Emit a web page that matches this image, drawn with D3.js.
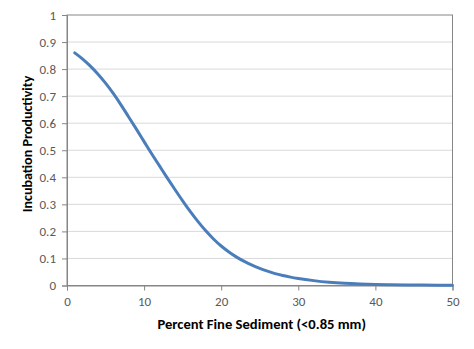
<!DOCTYPE html>
<html>
<head>
<meta charset="utf-8">
<script src="https://cdn.jsdelivr.net/npm/d3@7"></script>
<style>
  html, body { margin: 0; padding: 0; background: #fff; }
  svg { display: block; }
</style>
</head>
<body>
<svg id="chart" width="474" height="349"></svg>
<script>
const sedimentPct = [1,2,3,4,5,6,7,8,9,10,11,12,13,14,15,16,17,18,19,20,21,22,23,24,25,26,27,28,29,30,32,34,36,38,40,42,44,46,48,50];
const productivity = [0.860,0.838,0.812,0.782,0.748,0.710,0.668,0.623,0.578,0.532,0.486,0.442,0.398,0.355,0.313,0.273,0.236,0.202,0.172,0.146,0.124,0.105,0.089,0.075,0.063,0.053,0.044,0.037,0.031,0.026,0.018,0.012,0.008,0.0055,0.004,0.003,0.0022,0.0016,0.0012,0.001];
const xTicks = [0,10,20,30,40,50];
const yTicks = [0,0.1,0.2,0.3,0.4,0.5,0.6,0.7,0.8,0.9,1];
const xTitle = "Percent Fine Sediment (<0.85 mm)";
const yTitle = "Incubation Productivity";

const svg = d3.select("#chart");
const L = 67, R = 452.5, T = 15, B = 285.5;
const x = d3.scaleLinear().domain([0,50]).range([L,R]);
const y = d3.scaleLinear().domain([0,1]).range([B,T]);
const font = "Calibri, Carlito, Lato, 'Open Sans', sans-serif";

// gridlines
svg.append("g").selectAll("line").data(yTicks.filter(d => d > 0 && d < 1)).join("line")
  .attr("x1", L).attr("x2", R).attr("y1", d => y(d)).attr("y2", d => y(d))
  .attr("stroke", "#d9d9d9").attr("stroke-width", 1);

// plot border
svg.append("rect").attr("x", L).attr("y", T).attr("width", R-L).attr("height", B-T)
  .attr("fill", "none").attr("stroke", "#868686").attr("stroke-width", 1);

// axes
const yAxis = svg.append("g").attr("transform", `translate(${L},0)`)
  .call(d3.axisLeft(y).tickValues(yTicks).tickFormat(d3.format("~g")).tickSize(5).tickPadding(6));
const xAxis = svg.append("g").attr("transform", `translate(0,${B})`)
  .call(d3.axisBottom(x).tickValues(xTicks).tickFormat(d3.format("d")).tickSize(5).tickPadding(6));
[xAxis, yAxis].forEach(g => {
  g.select(".domain").attr("stroke", "#868686");
  g.selectAll(".tick line").attr("stroke", "#868686");
  g.selectAll(".tick text").attr("fill", "#595959").attr("font-size", "13px").attr("font-family", font);
});

// curve
const line = d3.line().x((d,i) => x(sedimentPct[i])).y(d => y(d)).curve(d3.curveMonotoneX);
svg.append("path").datum(productivity).attr("d", line)
  .attr("fill", "none").attr("stroke", "#4a7ebb").attr("stroke-width", 3)
  .attr("stroke-linejoin", "round").attr("stroke-linecap", "round");

// titles
svg.append("text").attr("x", (L+R)/2 + 2).attr("y", 329).attr("text-anchor", "middle")
  .attr("font-family", font).attr("font-weight", "bold").attr("font-size", "14.6px").attr("fill", "#000")
  .text(xTitle);
svg.append("text").attr("transform", `translate(32,144) rotate(-90)`).attr("text-anchor", "middle")
  .attr("font-family", font).attr("font-weight", "bold").attr("font-size", "14.1px").attr("fill", "#000")
  .text(yTitle);
</script>
</body>
</html>
